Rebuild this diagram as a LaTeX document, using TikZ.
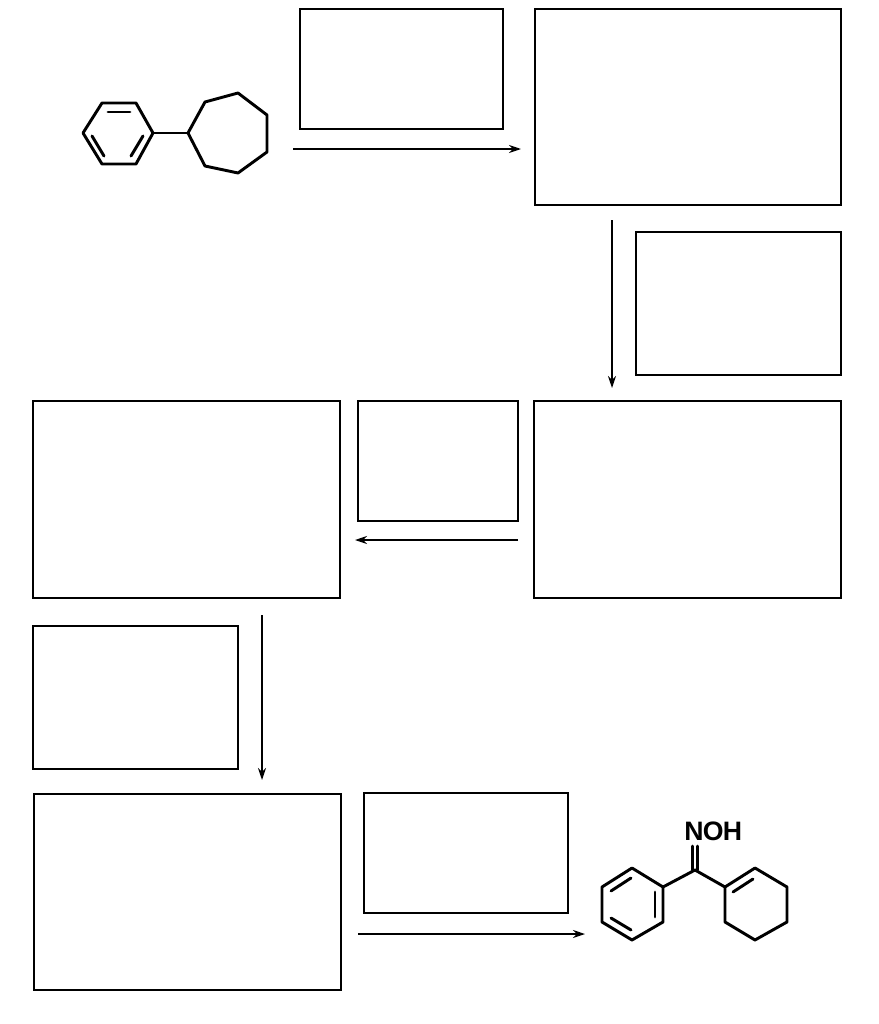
\documentclass[tikz,border=0pt]{standalone}
\usepackage{fontspec}
\setmainfont{Liberation Sans}
\usetikzlibrary{arrows.meta}
\begin{document}
\begin{tikzpicture}[x=0.75pt,y=-0.75pt,
  box/.style={draw,line width=1.2pt},
  bond/.style={line width=2.2pt,line join=round,line cap=round},
  arr/.style={line width=1.2pt,-{Stealth[length=9pt,width=6pt]}}]
\useasboundingbox (0,0) rectangle (878,1024);
\draw[box] (300,9) rectangle (503,129);
\draw[box] (535,9) rectangle (841,205);
\draw[box] (636,232) rectangle (841,375);
\draw[box] (534,401) rectangle (841,598);
\draw[box] (358,401) rectangle (518,521);
\draw[box] (33,401) rectangle (340,598);
\draw[box] (33,626) rectangle (238,769);
\draw[box] (34,794) rectangle (341,990);
\draw[box] (364,793) rectangle (568,913);
\coordinate (a1) at (293,149); \coordinate (a2) at (521,149);
\coordinate (b1) at (612,220); \coordinate (b2) at (612,388);
\coordinate (c1) at (518,540); \coordinate (c2) at (355,540);
\coordinate (d1) at (262,615); \coordinate (d2) at (262,780);
\coordinate (e1) at (358,934); \coordinate (e2) at (585,934);
\draw[arr] (a1) -- (a2);
\draw[arr] (b1) -- (b2);
\draw[arr] (c1) -- (c2);
\draw[arr] (d1) -- (d2);
\draw[arr] (e1) -- (e2);
% phenylcycloheptane
\draw[bond] (83,133)--(102,103)--(136,103)--(153,133)--(136,164)--(102,164)--cycle;
\draw[bond] (108,112)--(130,112);
\draw[bond] (92,136)--(104,156);
\draw[bond] (143,136)--(131,156);
\draw[bond] (153,133)--(188,133);
\draw[bond] (188,133)--(205,102)--(238,93)--(267,115)--(267,152)--(238,173)--(205,166)--cycle;
% oxime product
\draw[bond] (602,887)--(632,868)--(663,887)--(663,922)--(632,940)--(602,922)--cycle;
\draw[bond] (611,891)--(631,878);
\draw[bond] (655,892)--(655,917);
\draw[bond] (611,918)--(631,930);
\draw[bond] (663,887)--(695,870)--(725,887);
\draw[bond] (725,887)--(755,868)--(787,887)--(787,922)--(755,940)--(725,922)--cycle;
\draw[bond] (733,892)--(753,879);
\draw[bond] (692.5,870)--(692.5,846);
\draw[bond] (697.5,870)--(697.5,846);
\node[font=\bfseries\fontsize{20}{20}\selectfont,inner sep=0pt,anchor=west] (noh) at (684,831) {N\kern-0.5ptO\kern-0.5ptH};
\end{tikzpicture}
\end{document}
